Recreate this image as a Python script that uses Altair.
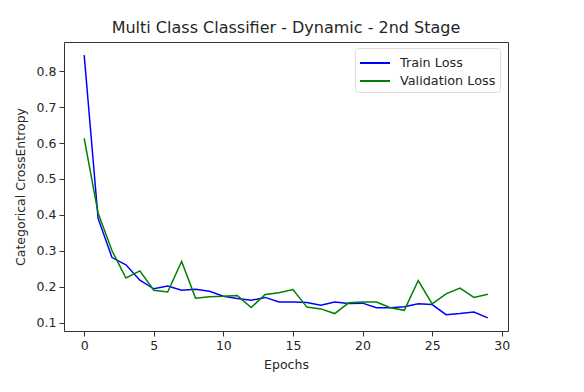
import altair as alt
import pandas as pd

epochs = list(range(30))
train_loss = [0.845, 0.39, 0.281, 0.261, 0.218, 0.194, 0.202, 0.19, 0.193, 0.187,
              0.173, 0.167, 0.162, 0.170, 0.157, 0.157, 0.156, 0.148, 0.157, 0.153,
              0.154, 0.141, 0.141, 0.144, 0.152, 0.150, 0.122, 0.125, 0.129, 0.113]
val_loss = [0.613, 0.405, 0.30, 0.224, 0.244, 0.19, 0.185, 0.270, 0.168, 0.172,
            0.173, 0.175, 0.142, 0.178, 0.183, 0.192, 0.143, 0.138, 0.125, 0.155,
            0.157, 0.157, 0.141, 0.134, 0.217, 0.152, 0.18, 0.196, 0.170, 0.179]
series_names = ["Train Loss", "Validation Loss"]
series_colors = ["blue", "green"]

rows = []
for e, t, v in zip(epochs, train_loss, val_loss):
    rows.append({"epoch": e, "loss": t, "series": series_names[0]})
    rows.append({"epoch": e, "loss": v, "series": series_names[1]})
df = pd.DataFrame(rows)

font = "DejaVu Sans"
ink = "#262626"

axis_style = dict(grid=False, tickSize=5, labelPadding=3, domain=False,
                  labelFont=font, titleFont=font, labelFontSize=12.5, titleFontSize=12.5,
                  labelColor=ink, titleColor=ink, tickColor="#333",
                  titleFontWeight="normal")

chart = alt.Chart(df).mark_line(strokeWidth=1.5, clip=True).encode(
    x=alt.X("epoch:Q", title="Epochs",
            scale=alt.Scale(domain=[-1.45, 30.45], nice=False, zero=False),
            axis=alt.Axis(values=[0, 5, 10, 15, 20, 25, 30], titlePadding=7,
                          **axis_style)),
    y=alt.Y("loss:Q", title="Categorical CrossEntropy",
            scale=alt.Scale(domain=[0.0764, 0.8816], nice=False, zero=False),
            axis=alt.Axis(values=[0.1, 0.2, 0.3, 0.4, 0.5, 0.6, 0.7, 0.8], format=".1f",
                          titlePadding=9, **axis_style)),
    color=alt.Color("series:N",
                    scale=alt.Scale(domain=series_names, range=series_colors),
                    legend=alt.Legend(title=None, orient="none", legendX=291, legendY=6,
                                      symbolType="M-1.5,0H1.5", symbolStrokeWidth=2,
                                      symbolSize=400, symbolOffset=5,
                                      labelFontSize=12.8, labelFont=font,
                                      labelColor=ink, padding=4, rowPadding=0,
                                      labelOffset=14,
                                      strokeColor="#dddddd", fillColor="white",
                                      cornerRadius=3)),
).properties(
    width=444, height=289,
    title=alt.TitleParams("Multi Class Classifier - Dynamic - 2nd Stage",
                          font=font, fontSize=16, fontWeight="normal", color=ink,
                          offset=6),
    autosize=alt.AutoSizeParams(type="none"),
    padding={"left": 56, "top": 34, "right": 60, "bottom": 50},
    background="white",
).configure_view(stroke="#333", strokeWidth=1)

chart.save("out.html", embed_options={"renderer": "svg", "actions": False})
